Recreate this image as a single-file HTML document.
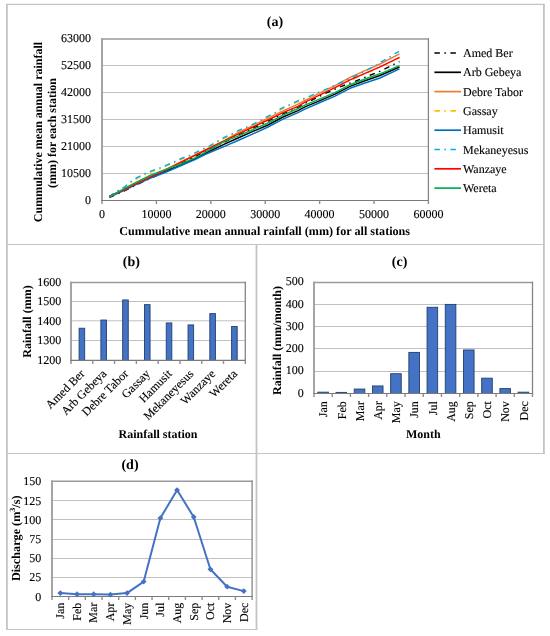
<!DOCTYPE html>
<html><head><meta charset="utf-8"><style>
html,body{margin:0;padding:0;background:#fff;}
svg{display:block;will-change:transform;}
text{font-family:"Liberation Serif", serif;fill:#000;text-rendering:geometricPrecision;stroke:#000;stroke-width:0.12px;}
text[font-weight="bold"]{stroke-width:0px;}
</style></head><body>
<svg width="550" height="636" viewBox="0 0 550 636">
<rect width="550" height="636" fill="#fff"/>
<rect x="6" y="4" width="538" height="625.5" fill="none"/>
<path d="M6 4.45H544.8M6 629.5H257.3M6 244.5H544.8M6 453.5H544.8" stroke="#c4c4c4" stroke-width="1.2" fill="none"/>
<path d="M6.9 3.9V630.1M543.9 3.9V454.1M256.5 244V630.1" stroke="#c4c4c4" stroke-width="1.8" fill="none"/>
<text x="275" y="26" font-size="14" font-weight="bold" text-anchor="middle">(a)</text>
<line x1="102" x2="428.4" y1="173.5" y2="173.5" stroke="#c0c0c0" stroke-width="1"/>
<line x1="102" x2="428.4" y1="146.5" y2="146.5" stroke="#c0c0c0" stroke-width="1"/>
<line x1="102" x2="428.4" y1="119.5" y2="119.5" stroke="#c0c0c0" stroke-width="1"/>
<line x1="102" x2="428.4" y1="92.5" y2="92.5" stroke="#c0c0c0" stroke-width="1"/>
<line x1="102" x2="428.4" y1="65.5" y2="65.5" stroke="#c0c0c0" stroke-width="1"/>
<line x1="101" x2="429.0" y1="39" y2="39" stroke="#9a9a9a" stroke-width="1.5"/>
<line x1="428.4" x2="428.4" y1="38.3" y2="201.0" stroke="#858585" stroke-width="1.3"/>
<line x1="102" x2="102" y1="38.3" y2="200.5" stroke="#a0a0a0" stroke-width="1.9"/>
<line x1="101" x2="429.0" y1="200.5" y2="200.5" stroke="#7a7a7a" stroke-width="1.1"/>
<line x1="102.00" x2="102.00" y1="200.5" y2="204.0" stroke="#8e8e8e" stroke-width="1.4"/>
<text x="102.00" y="218" font-size="12" text-anchor="middle">0</text>
<line x1="156.40" x2="156.40" y1="200.5" y2="204.0" stroke="#8e8e8e" stroke-width="1.4"/>
<text x="156.40" y="218" font-size="12" text-anchor="middle">10000</text>
<line x1="210.80" x2="210.80" y1="200.5" y2="204.0" stroke="#8e8e8e" stroke-width="1.4"/>
<text x="210.80" y="218" font-size="12" text-anchor="middle">20000</text>
<line x1="265.20" x2="265.20" y1="200.5" y2="204.0" stroke="#8e8e8e" stroke-width="1.4"/>
<text x="265.20" y="218" font-size="12" text-anchor="middle">30000</text>
<line x1="319.60" x2="319.60" y1="200.5" y2="204.0" stroke="#8e8e8e" stroke-width="1.4"/>
<text x="319.60" y="218" font-size="12" text-anchor="middle">40000</text>
<line x1="374.00" x2="374.00" y1="200.5" y2="204.0" stroke="#8e8e8e" stroke-width="1.4"/>
<text x="374.00" y="218" font-size="12" text-anchor="middle">50000</text>
<line x1="428.40" x2="428.40" y1="200.5" y2="204.0" stroke="#8e8e8e" stroke-width="1.4"/>
<text x="428.40" y="218" font-size="12" text-anchor="middle">60000</text>
<text x="91.1" y="203.60" font-size="12" text-anchor="end">0</text>
<text x="91.1" y="176.68" font-size="12" text-anchor="end">10500</text>
<text x="91.1" y="149.77" font-size="12" text-anchor="end">21000</text>
<text x="91.1" y="122.85" font-size="12" text-anchor="end">31500</text>
<text x="91.1" y="95.93" font-size="12" text-anchor="end">42000</text>
<text x="91.1" y="69.02" font-size="12" text-anchor="end">52500</text>
<text x="91.1" y="42.10" font-size="12" text-anchor="end">63000</text>
<text x="264.7" y="234.5" font-size="12.15" font-weight="bold" text-anchor="middle">Cummulative mean annual rainfall (mm) for all stations</text>
<text transform="translate(42.3 132) rotate(-90)" font-size="12" font-weight="bold" text-anchor="middle">Cummulative mean annual rainfall</text>
<text transform="translate(56.3 133) rotate(-90)" font-size="12" font-weight="bold" text-anchor="middle">(mm) for each station</text>
<polyline points="109.2,197.7 125.0,190.5 135.0,185.6 150.0,178.4 165.0,171.7 180.0,163.9 195.0,156.6 205.0,151.7 225.0,141.8 238.0,135.3 253.0,128.2 268.0,121.2 283.0,113.8 298.0,107.5 305.0,103.4 320.0,96.0 326.5,92.9 333.6,89.8 340.0,86.8 356.0,81.0 370.5,75.0 378.0,72.2 399.5,61.6" fill="none" stroke="#000000" stroke-width="1.45" stroke-dasharray="5.5 4.5 1.5 4.5" stroke-linejoin="round"/>
<polyline points="109.2,196.8 125.0,189.2 135.0,184.0 150.0,177.3 165.0,171.5 180.0,165.3 195.0,158.8 205.0,153.5 225.0,143.9 238.0,138.0 253.0,131.4 268.0,125.0 283.0,117.0 298.0,110.7 305.0,106.9 320.0,100.6 335.0,94.2 350.0,86.4 365.0,80.8 380.0,75.5 399.5,67.0" fill="none" stroke="#000000" stroke-width="1.45" stroke-linejoin="round"/>
<polyline points="109.2,196.6 125.0,189.0 135.0,184.0 150.0,176.8 165.0,170.0 180.0,162.3 195.0,155.0 205.0,150.0 225.0,140.2 238.0,132.5 253.0,125.6 268.0,118.2 283.0,110.8 298.0,104.1 305.0,100.3 320.0,92.9 335.0,85.7 350.0,77.4 365.0,70.7 380.0,64.0 399.5,53.8" fill="none" stroke="#ED7D31" stroke-width="1.45" stroke-linejoin="round"/>
<polyline points="109.2,197.4 117.4,191.6 124.6,187.6 130.5,182.7 137.4,178.2 144.6,174.8 152.0,171.5 159.3,169.0 166.9,165.7 174.2,162.8 180.0,159.8 189.0,156.4 195.0,153.6 210.5,146.2 217.4,142.2 224.3,138.2 231.5,134.9 239.2,130.9 246.3,128.1 253.6,124.8 260.6,121.2 267.7,117.1 274.6,114.0 281.3,109.2 288.4,106.0 296.0,102.5 310.5,96.7 317.9,93.4 325.4,90.4 340.0,85.5 360.0,76.0 380.0,67.3 399.5,57.6" fill="none" stroke="#FFC000" stroke-width="1.45" stroke-dasharray="5.5 4.5 1.5 4.5" stroke-linejoin="round"/>
<polyline points="109.2,197.0 125.0,190.0 135.0,185.0 150.0,178.3 165.0,172.5 180.0,166.0 195.0,159.7 205.0,154.5 225.0,146.1 238.0,140.5 253.0,133.9 268.0,127.0 283.0,119.2 298.0,112.6 305.0,109.1 320.0,102.5 335.0,96.2 350.0,88.3 365.0,83.0 380.0,78.0 399.5,68.8" fill="none" stroke="#0070C0" stroke-width="1.45" stroke-linejoin="round"/>
<polyline points="109.2,196.6 117.4,190.8 124.6,186.8 130.5,181.9 137.4,177.4 144.6,174.0 152.0,170.7 159.3,168.2 166.9,164.9 174.2,162.0 180.0,159.0 189.0,155.6 195.0,152.8 210.5,145.4 217.4,141.4 224.3,137.4 231.5,134.1 239.2,130.1 246.3,127.3 253.6,124.0 260.6,120.4 267.7,116.3 274.6,113.2 281.3,108.4 288.4,105.2 296.0,101.7 310.5,95.9 317.9,92.6 325.4,89.6 332.5,86.3 338.9,83.3 354.3,76.5 368.5,69.3 375.6,65.4 399.0,51.3" fill="none" stroke="#00B0F0" stroke-width="1.45" stroke-dasharray="5.5 4.5 1.5 4.5" stroke-linejoin="round"/>
<polyline points="109.2,196.5 125.0,189.3 135.0,184.4 150.0,177.2 165.0,170.5 180.0,162.7 195.0,155.4 205.0,150.5 225.0,140.6 238.0,134.1 253.0,127.0 268.0,120.0 283.0,112.6 298.0,106.3 305.0,102.2 320.0,94.8 335.0,87.6 350.0,79.8 365.0,73.3 380.0,66.8 399.5,57.3" fill="none" stroke="#FF0000" stroke-width="1.45" stroke-linejoin="round"/>
<polyline points="109.2,196.8 125.0,188.2 135.0,182.8 150.0,175.5 165.0,169.8 180.0,164.1 195.0,157.8 205.0,152.3 225.0,141.2 238.0,136.1 253.0,129.5 268.0,123.0 283.0,115.1 298.0,108.5 305.0,105.2 320.0,98.9 335.0,92.6 350.0,84.7 365.0,79.0 380.0,73.8 399.5,65.6" fill="none" stroke="#00B050" stroke-width="1.45" stroke-linejoin="round"/>
<line x1="434.4" x2="459" y1="53.00" y2="53.00" stroke="#000000" stroke-width="1.7" stroke-dasharray="5.5 4.5 1.5 4.5"/>
<text x="463" y="57.00" font-size="12">Amed Ber</text>
<line x1="434.4" x2="461" y1="72.30" y2="72.30" stroke="#000000" stroke-width="1.7"/>
<text x="463" y="76.30" font-size="12">Arb Gebeya</text>
<line x1="434.4" x2="461" y1="91.60" y2="91.60" stroke="#ED7D31" stroke-width="1.7"/>
<text x="463" y="95.60" font-size="12">Debre Tabor</text>
<line x1="434.4" x2="459" y1="110.90" y2="110.90" stroke="#FFC000" stroke-width="1.7" stroke-dasharray="5.5 4.5 1.5 4.5"/>
<text x="463" y="114.90" font-size="12">Gassay</text>
<line x1="434.4" x2="461" y1="130.20" y2="130.20" stroke="#0070C0" stroke-width="1.7"/>
<text x="463" y="134.20" font-size="12">Hamusit</text>
<line x1="434.4" x2="459" y1="149.50" y2="149.50" stroke="#00B0F0" stroke-width="1.7" stroke-dasharray="5.5 4.5 1.5 4.5"/>
<text x="463" y="153.50" font-size="12">Mekaneyesus</text>
<line x1="434.4" x2="461" y1="168.80" y2="168.80" stroke="#FF0000" stroke-width="1.7"/>
<text x="463" y="172.80" font-size="12">Wanzaye</text>
<line x1="434.4" x2="461" y1="188.10" y2="188.10" stroke="#00B050" stroke-width="1.7"/>
<text x="463" y="192.10" font-size="12">Wereta</text>
<text x="131.4" y="265.5" font-size="14" font-weight="bold" text-anchor="middle">(b)</text>
<line x1="71" x2="245.3" y1="340.5" y2="340.5" stroke="#c0c0c0" stroke-width="1"/>
<line x1="71" x2="245.3" y1="320.8" y2="320.8" stroke="#c0c0c0" stroke-width="1"/>
<line x1="71" x2="245.3" y1="301.5" y2="301.5" stroke="#c0c0c0" stroke-width="1"/>
<text x="61.2" y="363.80" font-size="12" text-anchor="end">1200</text>
<text x="61.2" y="344.30" font-size="12" text-anchor="end">1300</text>
<text x="61.2" y="324.80" font-size="12" text-anchor="end">1400</text>
<text x="61.2" y="305.30" font-size="12" text-anchor="end">1500</text>
<text x="61.2" y="285.80" font-size="12" text-anchor="end">1600</text>
<rect x="79.09" y="328.22" width="5.6" height="32.18" fill="#4472C4" stroke="#22406e" stroke-width="0.9"/>
<text transform="translate(85.39 374.5) rotate(-45)" font-size="12" text-anchor="end">Amed Ber</text>
<rect x="100.88" y="320.03" width="5.6" height="40.37" fill="#4472C4" stroke="#22406e" stroke-width="0.9"/>
<text transform="translate(107.18 374.5) rotate(-45)" font-size="12" text-anchor="end">Arb Gebeya</text>
<rect x="122.67" y="299.95" width="5.6" height="60.45" fill="#4472C4" stroke="#22406e" stroke-width="0.9"/>
<text transform="translate(128.97 374.5) rotate(-45)" font-size="12" text-anchor="end">Debre Tabor</text>
<rect x="144.46" y="304.63" width="5.6" height="55.77" fill="#4472C4" stroke="#22406e" stroke-width="0.9"/>
<text transform="translate(150.76 374.5) rotate(-45)" font-size="12" text-anchor="end">Gassay</text>
<rect x="166.24" y="322.96" width="5.6" height="37.44" fill="#4472C4" stroke="#22406e" stroke-width="0.9"/>
<text transform="translate(172.54 374.5) rotate(-45)" font-size="12" text-anchor="end">Hamusit</text>
<rect x="188.03" y="324.91" width="5.6" height="35.49" fill="#4472C4" stroke="#22406e" stroke-width="0.9"/>
<text transform="translate(194.33 374.5) rotate(-45)" font-size="12" text-anchor="end">Mekaneyesus</text>
<rect x="209.82" y="313.60" width="5.6" height="46.80" fill="#4472C4" stroke="#22406e" stroke-width="0.9"/>
<text transform="translate(216.12 374.5) rotate(-45)" font-size="12" text-anchor="end">Wanzaye</text>
<rect x="231.61" y="326.47" width="5.6" height="33.93" fill="#4472C4" stroke="#22406e" stroke-width="0.9"/>
<text transform="translate(237.91 374.5) rotate(-45)" font-size="12" text-anchor="end">Wereta</text>
<line x1="70" x2="245.9" y1="282.4" y2="282.4" stroke="#9a9a9a" stroke-width="1.5"/>
<line x1="245.3" x2="245.3" y1="281.7" y2="360.9" stroke="#858585" stroke-width="1.3"/>
<line x1="71" x2="71" y1="281.7" y2="360.4" stroke="#a0a0a0" stroke-width="1.9"/>
<line x1="70" x2="245.9" y1="360.4" y2="360.4" stroke="#7a7a7a" stroke-width="1.1"/>
<line x1="71.00" x2="71.00" y1="360.4" y2="363.9" stroke="#8e8e8e" stroke-width="1.4"/>
<line x1="92.79" x2="92.79" y1="360.4" y2="363.9" stroke="#8e8e8e" stroke-width="1.4"/>
<line x1="114.58" x2="114.58" y1="360.4" y2="363.9" stroke="#8e8e8e" stroke-width="1.4"/>
<line x1="136.36" x2="136.36" y1="360.4" y2="363.9" stroke="#8e8e8e" stroke-width="1.4"/>
<line x1="158.15" x2="158.15" y1="360.4" y2="363.9" stroke="#8e8e8e" stroke-width="1.4"/>
<line x1="179.94" x2="179.94" y1="360.4" y2="363.9" stroke="#8e8e8e" stroke-width="1.4"/>
<line x1="201.73" x2="201.73" y1="360.4" y2="363.9" stroke="#8e8e8e" stroke-width="1.4"/>
<line x1="223.51" x2="223.51" y1="360.4" y2="363.9" stroke="#8e8e8e" stroke-width="1.4"/>
<line x1="245.30" x2="245.30" y1="360.4" y2="363.9" stroke="#8e8e8e" stroke-width="1.4"/>
<text x="158" y="437.8" font-size="12" font-weight="bold" text-anchor="middle">Rainfall station</text>
<text transform="translate(30.6 321.5) rotate(-90)" font-size="12" font-weight="bold" text-anchor="middle">Rainfall (mm)</text>
<text x="399.6" y="265.5" font-size="14" font-weight="bold" text-anchor="middle">(c)</text>
<line x1="314" x2="532.5" y1="371.5" y2="371.5" stroke="#c0c0c0" stroke-width="1"/>
<line x1="314" x2="532.5" y1="348.5" y2="348.5" stroke="#c0c0c0" stroke-width="1"/>
<line x1="314" x2="532.5" y1="326.5" y2="326.5" stroke="#c0c0c0" stroke-width="1"/>
<line x1="314" x2="532.5" y1="304.5" y2="304.5" stroke="#c0c0c0" stroke-width="1"/>
<text x="303.7" y="396.50" font-size="12" text-anchor="end">0</text>
<text x="303.7" y="374.28" font-size="12" text-anchor="end">100</text>
<text x="303.7" y="352.06" font-size="12" text-anchor="end">200</text>
<text x="303.7" y="329.84" font-size="12" text-anchor="end">300</text>
<text x="303.7" y="307.62" font-size="12" text-anchor="end">400</text>
<text x="303.7" y="285.40" font-size="12" text-anchor="end">500</text>
<rect x="317.80" y="392.17" width="10.6" height="1.33" fill="#4472C4" stroke="#22406e" stroke-width="0.9"/>
<text transform="translate(327.40 401.2) rotate(-90)" font-size="12" text-anchor="end">Jan</text>
<rect x="336.01" y="392.39" width="10.6" height="1.11" fill="#4472C4" stroke="#22406e" stroke-width="0.9"/>
<text transform="translate(345.61 401.2) rotate(-90)" font-size="12" text-anchor="end">Feb</text>
<rect x="354.22" y="389.06" width="10.6" height="4.44" fill="#4472C4" stroke="#22406e" stroke-width="0.9"/>
<text transform="translate(363.82 401.2) rotate(-90)" font-size="12" text-anchor="end">Mar</text>
<rect x="372.43" y="385.95" width="10.6" height="7.55" fill="#4472C4" stroke="#22406e" stroke-width="0.9"/>
<text transform="translate(382.03 401.2) rotate(-90)" font-size="12" text-anchor="end">Apr</text>
<rect x="390.64" y="373.72" width="10.6" height="19.78" fill="#4472C4" stroke="#22406e" stroke-width="0.9"/>
<text transform="translate(400.24 401.2) rotate(-90)" font-size="12" text-anchor="end">May</text>
<rect x="408.85" y="352.39" width="10.6" height="41.11" fill="#4472C4" stroke="#22406e" stroke-width="0.9"/>
<text transform="translate(418.45 401.2) rotate(-90)" font-size="12" text-anchor="end">Jun</text>
<rect x="427.05" y="307.29" width="10.6" height="86.21" fill="#4472C4" stroke="#22406e" stroke-width="0.9"/>
<text transform="translate(436.65 401.2) rotate(-90)" font-size="12" text-anchor="end">Jul</text>
<rect x="445.26" y="304.40" width="10.6" height="89.10" fill="#4472C4" stroke="#22406e" stroke-width="0.9"/>
<text transform="translate(454.86 401.2) rotate(-90)" font-size="12" text-anchor="end">Aug</text>
<rect x="463.47" y="349.95" width="10.6" height="43.55" fill="#4472C4" stroke="#22406e" stroke-width="0.9"/>
<text transform="translate(473.07 401.2) rotate(-90)" font-size="12" text-anchor="end">Sep</text>
<rect x="481.68" y="378.17" width="10.6" height="15.33" fill="#4472C4" stroke="#22406e" stroke-width="0.9"/>
<text transform="translate(491.28 401.2) rotate(-90)" font-size="12" text-anchor="end">Oct</text>
<rect x="499.89" y="388.61" width="10.6" height="4.89" fill="#4472C4" stroke="#22406e" stroke-width="0.9"/>
<text transform="translate(509.49 401.2) rotate(-90)" font-size="12" text-anchor="end">Nov</text>
<rect x="518.10" y="392.17" width="10.6" height="1.33" fill="#4472C4" stroke="#22406e" stroke-width="0.9"/>
<text transform="translate(527.70 401.2) rotate(-90)" font-size="12" text-anchor="end">Dec</text>
<line x1="313" x2="533.1" y1="282.4" y2="282.4" stroke="#9a9a9a" stroke-width="1.5"/>
<line x1="532.5" x2="532.5" y1="281.7" y2="394.0" stroke="#858585" stroke-width="1.3"/>
<line x1="314" x2="314" y1="281.7" y2="393.5" stroke="#a0a0a0" stroke-width="1.9"/>
<line x1="313" x2="533.1" y1="393.5" y2="393.5" stroke="#7a7a7a" stroke-width="1.1"/>
<line x1="314.00" x2="314.00" y1="393.5" y2="397.0" stroke="#8e8e8e" stroke-width="1.4"/>
<line x1="332.21" x2="332.21" y1="393.5" y2="397.0" stroke="#8e8e8e" stroke-width="1.4"/>
<line x1="350.42" x2="350.42" y1="393.5" y2="397.0" stroke="#8e8e8e" stroke-width="1.4"/>
<line x1="368.62" x2="368.62" y1="393.5" y2="397.0" stroke="#8e8e8e" stroke-width="1.4"/>
<line x1="386.83" x2="386.83" y1="393.5" y2="397.0" stroke="#8e8e8e" stroke-width="1.4"/>
<line x1="405.04" x2="405.04" y1="393.5" y2="397.0" stroke="#8e8e8e" stroke-width="1.4"/>
<line x1="423.25" x2="423.25" y1="393.5" y2="397.0" stroke="#8e8e8e" stroke-width="1.4"/>
<line x1="441.46" x2="441.46" y1="393.5" y2="397.0" stroke="#8e8e8e" stroke-width="1.4"/>
<line x1="459.67" x2="459.67" y1="393.5" y2="397.0" stroke="#8e8e8e" stroke-width="1.4"/>
<line x1="477.88" x2="477.88" y1="393.5" y2="397.0" stroke="#8e8e8e" stroke-width="1.4"/>
<line x1="496.08" x2="496.08" y1="393.5" y2="397.0" stroke="#8e8e8e" stroke-width="1.4"/>
<line x1="514.29" x2="514.29" y1="393.5" y2="397.0" stroke="#8e8e8e" stroke-width="1.4"/>
<line x1="532.50" x2="532.50" y1="393.5" y2="397.0" stroke="#8e8e8e" stroke-width="1.4"/>
<text x="423.3" y="437.7" font-size="12" font-weight="bold" text-anchor="middle">Month</text>
<text transform="translate(280.6 340.5) rotate(-90)" font-size="12" font-weight="bold" text-anchor="middle">Rainfall (mm/month)</text>
<text x="130" y="469" font-size="14" font-weight="bold" text-anchor="middle">(d)</text>
<line x1="52" x2="252.1" y1="577.5" y2="577.5" stroke="#c0c0c0" stroke-width="1"/>
<line x1="52" x2="252.1" y1="558.5" y2="558.5" stroke="#c0c0c0" stroke-width="1"/>
<line x1="52" x2="252.1" y1="539.5" y2="539.5" stroke="#c0c0c0" stroke-width="1"/>
<line x1="52" x2="252.1" y1="519.5" y2="519.5" stroke="#c0c0c0" stroke-width="1"/>
<line x1="52" x2="252.1" y1="500.5" y2="500.5" stroke="#c0c0c0" stroke-width="1"/>
<text x="41.2" y="600.70" font-size="12" text-anchor="end">0</text>
<text x="41.2" y="581.48" font-size="12" text-anchor="end">25</text>
<text x="41.2" y="562.27" font-size="12" text-anchor="end">50</text>
<text x="41.2" y="543.05" font-size="12" text-anchor="end">75</text>
<text x="41.2" y="523.83" font-size="12" text-anchor="end">100</text>
<text x="41.2" y="504.62" font-size="12" text-anchor="end">125</text>
<text x="41.2" y="485.40" font-size="12" text-anchor="end">150</text>
<line x1="51" x2="252.7" y1="481.2" y2="481.2" stroke="#9a9a9a" stroke-width="1.5"/>
<line x1="252.1" x2="252.1" y1="480.5" y2="597.0" stroke="#858585" stroke-width="1.3"/>
<line x1="52" x2="52" y1="480.5" y2="596.5" stroke="#a0a0a0" stroke-width="1.9"/>
<line x1="51" x2="252.7" y1="596.5" y2="596.5" stroke="#7a7a7a" stroke-width="1.1"/>
<line x1="52.00" x2="52.00" y1="596.5" y2="600.0" stroke="#8e8e8e" stroke-width="1.4"/>
<line x1="68.67" x2="68.67" y1="596.5" y2="600.0" stroke="#8e8e8e" stroke-width="1.4"/>
<line x1="85.35" x2="85.35" y1="596.5" y2="600.0" stroke="#8e8e8e" stroke-width="1.4"/>
<line x1="102.03" x2="102.03" y1="596.5" y2="600.0" stroke="#8e8e8e" stroke-width="1.4"/>
<line x1="118.70" x2="118.70" y1="596.5" y2="600.0" stroke="#8e8e8e" stroke-width="1.4"/>
<line x1="135.38" x2="135.38" y1="596.5" y2="600.0" stroke="#8e8e8e" stroke-width="1.4"/>
<line x1="152.05" x2="152.05" y1="596.5" y2="600.0" stroke="#8e8e8e" stroke-width="1.4"/>
<line x1="168.73" x2="168.73" y1="596.5" y2="600.0" stroke="#8e8e8e" stroke-width="1.4"/>
<line x1="185.40" x2="185.40" y1="596.5" y2="600.0" stroke="#8e8e8e" stroke-width="1.4"/>
<line x1="202.08" x2="202.08" y1="596.5" y2="600.0" stroke="#8e8e8e" stroke-width="1.4"/>
<line x1="218.75" x2="218.75" y1="596.5" y2="600.0" stroke="#8e8e8e" stroke-width="1.4"/>
<line x1="235.43" x2="235.43" y1="596.5" y2="600.0" stroke="#8e8e8e" stroke-width="1.4"/>
<line x1="252.10" x2="252.10" y1="596.5" y2="600.0" stroke="#8e8e8e" stroke-width="1.4"/>
<text transform="translate(64.14 602.7) rotate(-90)" font-size="12" text-anchor="end">Jan</text>
<text transform="translate(80.81 602.7) rotate(-90)" font-size="12" text-anchor="end">Feb</text>
<text transform="translate(97.49 602.7) rotate(-90)" font-size="12" text-anchor="end">Mar</text>
<text transform="translate(114.16 602.7) rotate(-90)" font-size="12" text-anchor="end">Apr</text>
<text transform="translate(130.84 602.7) rotate(-90)" font-size="12" text-anchor="end">May</text>
<text transform="translate(147.51 602.7) rotate(-90)" font-size="12" text-anchor="end">Jun</text>
<text transform="translate(164.19 602.7) rotate(-90)" font-size="12" text-anchor="end">Jul</text>
<text transform="translate(180.86 602.7) rotate(-90)" font-size="12" text-anchor="end">Aug</text>
<text transform="translate(197.54 602.7) rotate(-90)" font-size="12" text-anchor="end">Sep</text>
<text transform="translate(214.21 602.7) rotate(-90)" font-size="12" text-anchor="end">Oct</text>
<text transform="translate(230.89 602.7) rotate(-90)" font-size="12" text-anchor="end">Nov</text>
<text transform="translate(247.56 602.7) rotate(-90)" font-size="12" text-anchor="end">Dec</text>
<polyline points="60.3,593.1 77.0,594.2 93.7,594.2 110.4,594.6 127.0,593.1 143.7,581.6 160.4,518.1 177.1,490.0 193.7,517.0 210.4,569.3 227.1,586.7 243.8,591.1" fill="none" stroke="#4472C4" stroke-width="2" stroke-linejoin="round"/>
<path d="M60.34 590.22L63.24 593.12L60.34 596.02L57.44 593.12Z" fill="#4472C4"/>
<path d="M77.01 591.29L79.91 594.19L77.01 597.09L74.11 594.19Z" fill="#4472C4"/>
<path d="M93.69 591.29L96.59 594.19L93.69 597.09L90.79 594.19Z" fill="#4472C4"/>
<path d="M110.36 591.68L113.26 594.58L110.36 597.48L107.46 594.58Z" fill="#4472C4"/>
<path d="M127.04 590.22L129.94 593.12L127.04 596.02L124.14 593.12Z" fill="#4472C4"/>
<path d="M143.71 578.69L146.61 581.59L143.71 584.49L140.81 581.59Z" fill="#4472C4"/>
<path d="M160.39 515.20L163.29 518.10L160.39 521.00L157.49 518.10Z" fill="#4472C4"/>
<path d="M177.06 487.14L179.96 490.04L177.06 492.94L174.16 490.04Z" fill="#4472C4"/>
<path d="M193.74 514.12L196.64 517.02L193.74 519.92L190.84 517.02Z" fill="#4472C4"/>
<path d="M210.41 566.39L213.31 569.29L210.41 572.19L207.51 569.29Z" fill="#4472C4"/>
<path d="M227.09 583.76L229.99 586.66L227.09 589.56L224.19 586.66Z" fill="#4472C4"/>
<path d="M243.76 588.22L246.66 591.12L243.76 594.02L240.86 591.12Z" fill="#4472C4"/>
<text transform="translate(19.6 538.3) rotate(-90)" font-size="12.2" font-weight="bold" text-anchor="middle">Discharge (m<tspan font-size="8" dy="-4.5">3</tspan><tspan dy="4.5">/s)</tspan></text>
</svg>
</body></html>
